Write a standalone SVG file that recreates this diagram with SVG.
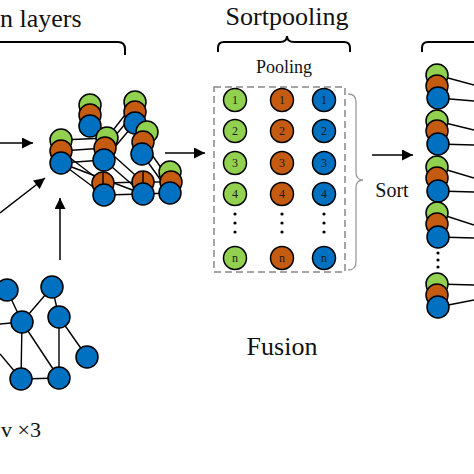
<svg xmlns="http://www.w3.org/2000/svg" width="474" height="474" viewBox="0 0 474 474">
<defs>
<style>
.t{font-family:"Liberation Serif","Times New Roman",serif;fill:#111}
.num{font-family:"Liberation Serif","Times New Roman",serif;font-size:12px;fill:#1a1a1a;text-anchor:middle}
.g{fill:#92d050;stroke:#000;stroke-width:1.5}
.o{fill:#c55a11;stroke:#000;stroke-width:1.5}
.b{fill:#0070c0;stroke:#000;stroke-width:1.5}
.e{stroke:#000;stroke-width:1.4;fill:none}
.ar{stroke:#000;stroke-width:1.5;fill:none;marker-end:url(#ah)}
.br{stroke:#000;stroke-width:2;fill:none}
.dot{fill:#000}
</style>
<marker id="ah" viewBox="0 0 10 10" refX="10" refY="5" markerUnits="userSpaceOnUse" markerWidth="13" markerHeight="11" orient="auto">
<path d="M0,0 L10,5 L0,10 z" fill="#000"/>
</marker>
</defs>
<rect width="474" height="474" fill="#fff"/>

<!-- titles -->
<text class="t" x="0" y="27" font-size="26">n layers</text>
<text class="t" x="287" y="25" font-size="26" text-anchor="middle">Sortpooling</text>
<text class="t" x="284" y="73" font-size="18" text-anchor="middle">Pooling</text>
<text class="t" x="392" y="197" font-size="20" text-anchor="middle">Sort</text>
<text class="t" x="282" y="355" font-size="26" text-anchor="middle">Fusion</text>
<text class="t" x="1" y="437" font-size="22">v ×3</text>

<!-- braces -->
<path class="br" d="M0,42 L118,42 Q125,42 125,49 L125,55"/>
<path class="br" d="M218,52 L218,48 Q218,42 224,42 L280,42 Q287,42 287,36 Q287,42 294,42 L344,42 Q350,42 350,48 L350,52"/>
<path class="br" d="M422,52 L422,48 Q422,42 428,42 L474,42"/>
<path d="M348,94 Q356,94 356,102 L356,172 Q356,180 363,180 Q356,180 356,188 L356,262 Q356,270 348,270" stroke="#9a9a9a" stroke-width="1.3" fill="none"/>

<!-- dashed pooling box -->
<rect x="214" y="87" width="131" height="185" fill="none" stroke="#888" stroke-width="1.5" stroke-dasharray="7,4"/>

<!-- connectors -->
<g id="connectors">
<line class="ar" x1="0" y1="143" x2="33" y2="143"/>
<line class="ar" x1="0" y1="213" x2="45" y2="178"/>
<line class="ar" x1="60" y1="260" x2="60" y2="198"/>
<line class="ar" x1="165" y1="153" x2="205" y2="153"/>
<line class="ar" x1="372" y1="155" x2="413" y2="155"/>
<!-- GNN stacked graph edges -->
<g class="e">
<line x1="61" y1="140" x2="107" y2="138"/><line x1="61" y1="151" x2="105" y2="148"/><line x1="61" y1="163" x2="104" y2="160"/>
<line x1="61" y1="151" x2="103" y2="183"/><line x1="61" y1="163" x2="104" y2="195"/><line x1="61" y1="163" x2="143" y2="194"/>
<line x1="105" y1="148" x2="143" y2="182"/><line x1="104" y1="160" x2="143" y2="194"/>
<line x1="107" y1="138" x2="135" y2="102"/><line x1="105" y1="148" x2="135" y2="112"/><line x1="104" y1="160" x2="135" y2="123"/>
<line x1="135" y1="102" x2="147" y2="132"/><line x1="135" y1="112" x2="143" y2="142"/><line x1="135" y1="123" x2="142" y2="154"/>
<line x1="143" y1="142" x2="171" y2="182"/><line x1="142" y1="154" x2="170" y2="193"/>
<line x1="103" y1="183" x2="143" y2="182"/><line x1="104" y1="195" x2="143" y2="194"/>
<line x1="143" y1="182" x2="171" y2="182"/><line x1="143" y1="194" x2="170" y2="193"/>
</g>
<!-- input graph edges -->
<g class="e">
<line x1="7" y1="290" x2="22" y2="322"/>
<line x1="22" y1="322" x2="52" y2="287"/>
<line x1="52" y1="287" x2="59" y2="317"/>
<line x1="59" y1="317" x2="59" y2="378"/>
<line x1="59" y1="317" x2="87" y2="357"/>
<line x1="22" y1="322" x2="21" y2="379"/>
<line x1="22" y1="322" x2="59" y2="378"/>
<line x1="21" y1="379" x2="59" y2="378"/>
<line x1="0" y1="324" x2="22" y2="322"/>
<line x1="0" y1="354" x2="21" y2="379"/>
</g>
<!-- output stack lines -->
<g class="e">
<line x1="437" y1="75" x2="474" y2="85"/><line x1="438" y1="98" x2="474" y2="101"/>
<line x1="437" y1="121" x2="474" y2="130"/><line x1="438" y1="144" x2="474" y2="145"/>
<line x1="437" y1="167" x2="474" y2="178"/><line x1="438" y1="191" x2="474" y2="192"/>
<line x1="437" y1="213" x2="474" y2="225"/><line x1="438" y1="237" x2="474" y2="238"/>
<line x1="437" y1="284" x2="474" y2="285"/><line x1="438" y1="307" x2="474" y2="300"/>
</g>
</g>

<!-- GNN stacked nodes -->
<g id="stackB"><circle class="g" cx="90" cy="105" r="11"/><circle class="o" cx="90" cy="115" r="11"/><circle class="b" cx="90" cy="126" r="11"/></g>
<g id="stackC"><circle class="g" cx="135" cy="102" r="11"/><circle class="o" cx="135" cy="112" r="11"/><circle class="b" cx="135" cy="123" r="11"/></g>
<g id="stackA"><circle class="g" cx="61" cy="140" r="11"/><circle class="o" cx="61" cy="151" r="11"/><circle class="b" cx="61" cy="163" r="11"/></g>
<g id="stackE"><circle class="g" cx="147" cy="132" r="11"/><circle class="o" cx="143" cy="142" r="11"/><circle class="b" cx="142" cy="154" r="11"/></g>
<g id="stackD"><circle class="g" cx="107" cy="138" r="11"/><circle class="o" cx="105" cy="148" r="11"/><circle class="b" cx="104" cy="160" r="11"/></g>
<g id="stackF"><circle class="o" cx="103" cy="183" r="11"/><line class="e" x1="103" y1="172" x2="103" y2="190"/><circle class="b" cx="104" cy="195" r="11"/></g>
<g id="stackG"><circle class="o" cx="143" cy="182" r="11"/><line class="e" x1="143" y1="171" x2="143" y2="190"/><circle class="b" cx="143" cy="194" r="11"/></g>
<g id="stackH"><circle class="g" cx="170" cy="172" r="11"/><circle class="o" cx="171" cy="182" r="11"/><circle class="b" cx="170" cy="193" r="11"/></g>

<!-- input graph nodes -->
<g id="input-graph">
<circle class="b" cx="7" cy="290" r="11"/>
<circle class="b" cx="52" cy="287" r="11"/>
<circle class="b" cx="22" cy="322" r="11"/>
<circle class="b" cx="59" cy="317" r="11"/>
<circle class="b" cx="87" cy="357" r="11"/>
<circle class="b" cx="21" cy="379" r="11"/>
<circle class="b" cx="59" cy="378" r="11"/>
</g>

<!-- pooling columns -->
<g id="pool-green">
<circle class="g" cx="235" cy="100" r="11.5"/><text class="num" x="235" y="104">1</text>
<circle class="g" cx="235" cy="131" r="11.5"/><text class="num" x="235" y="135">2</text>
<circle class="g" cx="235" cy="163" r="11.5"/><text class="num" x="235" y="167">3</text>
<circle class="g" cx="235" cy="194" r="11.5"/><text class="num" x="235" y="198">4</text>
<circle class="dot" cx="235" cy="214" r="1.6"/><circle class="dot" cx="235" cy="223" r="1.6"/><circle class="dot" cx="235" cy="232" r="1.6"/>
<circle class="g" cx="235" cy="258" r="11.5"/><text class="num" x="235" y="262">n</text>
</g>
<g id="pool-orange">
<circle class="o" cx="282" cy="100" r="11.5"/><text class="num" x="282" y="104">1</text>
<circle class="o" cx="282" cy="131" r="11.5"/><text class="num" x="282" y="135">2</text>
<circle class="o" cx="282" cy="163" r="11.5"/><text class="num" x="282" y="167">3</text>
<circle class="o" cx="282" cy="194" r="11.5"/><text class="num" x="282" y="198">4</text>
<circle class="dot" cx="282" cy="214" r="1.6"/><circle class="dot" cx="282" cy="223" r="1.6"/><circle class="dot" cx="282" cy="232" r="1.6"/>
<circle class="o" cx="282" cy="258" r="11.5"/><text class="num" x="282" y="262">n</text>
</g>
<g id="pool-blue">
<circle class="b" cx="324" cy="100" r="11.5"/><text class="num" x="324" y="104">1</text>
<circle class="b" cx="324" cy="131" r="11.5"/><text class="num" x="324" y="135">2</text>
<circle class="b" cx="324" cy="163" r="11.5"/><text class="num" x="324" y="167">3</text>
<circle class="b" cx="324" cy="194" r="11.5"/><text class="num" x="324" y="198">4</text>
<circle class="dot" cx="324" cy="214" r="1.6"/><circle class="dot" cx="324" cy="223" r="1.6"/><circle class="dot" cx="324" cy="232" r="1.6"/>
<circle class="b" cx="324" cy="258" r="11.5"/><text class="num" x="324" y="262">n</text>
</g>

<!-- sorted output stacks -->
<g id="out1"><circle class="g" cx="437" cy="75" r="11"/><circle class="o" cx="437" cy="86" r="11"/><circle class="b" cx="438" cy="98" r="11"/></g>
<g id="out2"><circle class="g" cx="437" cy="121" r="11"/><circle class="o" cx="437" cy="131" r="11"/><circle class="b" cx="438" cy="144" r="11"/></g>
<g id="out3"><circle class="g" cx="437" cy="167" r="11"/><circle class="o" cx="437" cy="178" r="11"/><circle class="b" cx="438" cy="191" r="11"/></g>
<g id="out4"><circle class="g" cx="437" cy="213" r="11"/><circle class="o" cx="437" cy="224" r="11"/><circle class="b" cx="438" cy="237" r="11"/></g>
<g id="out-dots"><circle class="dot" cx="438" cy="253" r="1.6"/><circle class="dot" cx="438" cy="260" r="1.6"/><circle class="dot" cx="438" cy="267" r="1.6"/></g>
<g id="out5"><circle class="g" cx="437" cy="284" r="11"/><circle class="o" cx="437" cy="295" r="11"/><circle class="b" cx="438" cy="307" r="11"/></g>
</svg>
